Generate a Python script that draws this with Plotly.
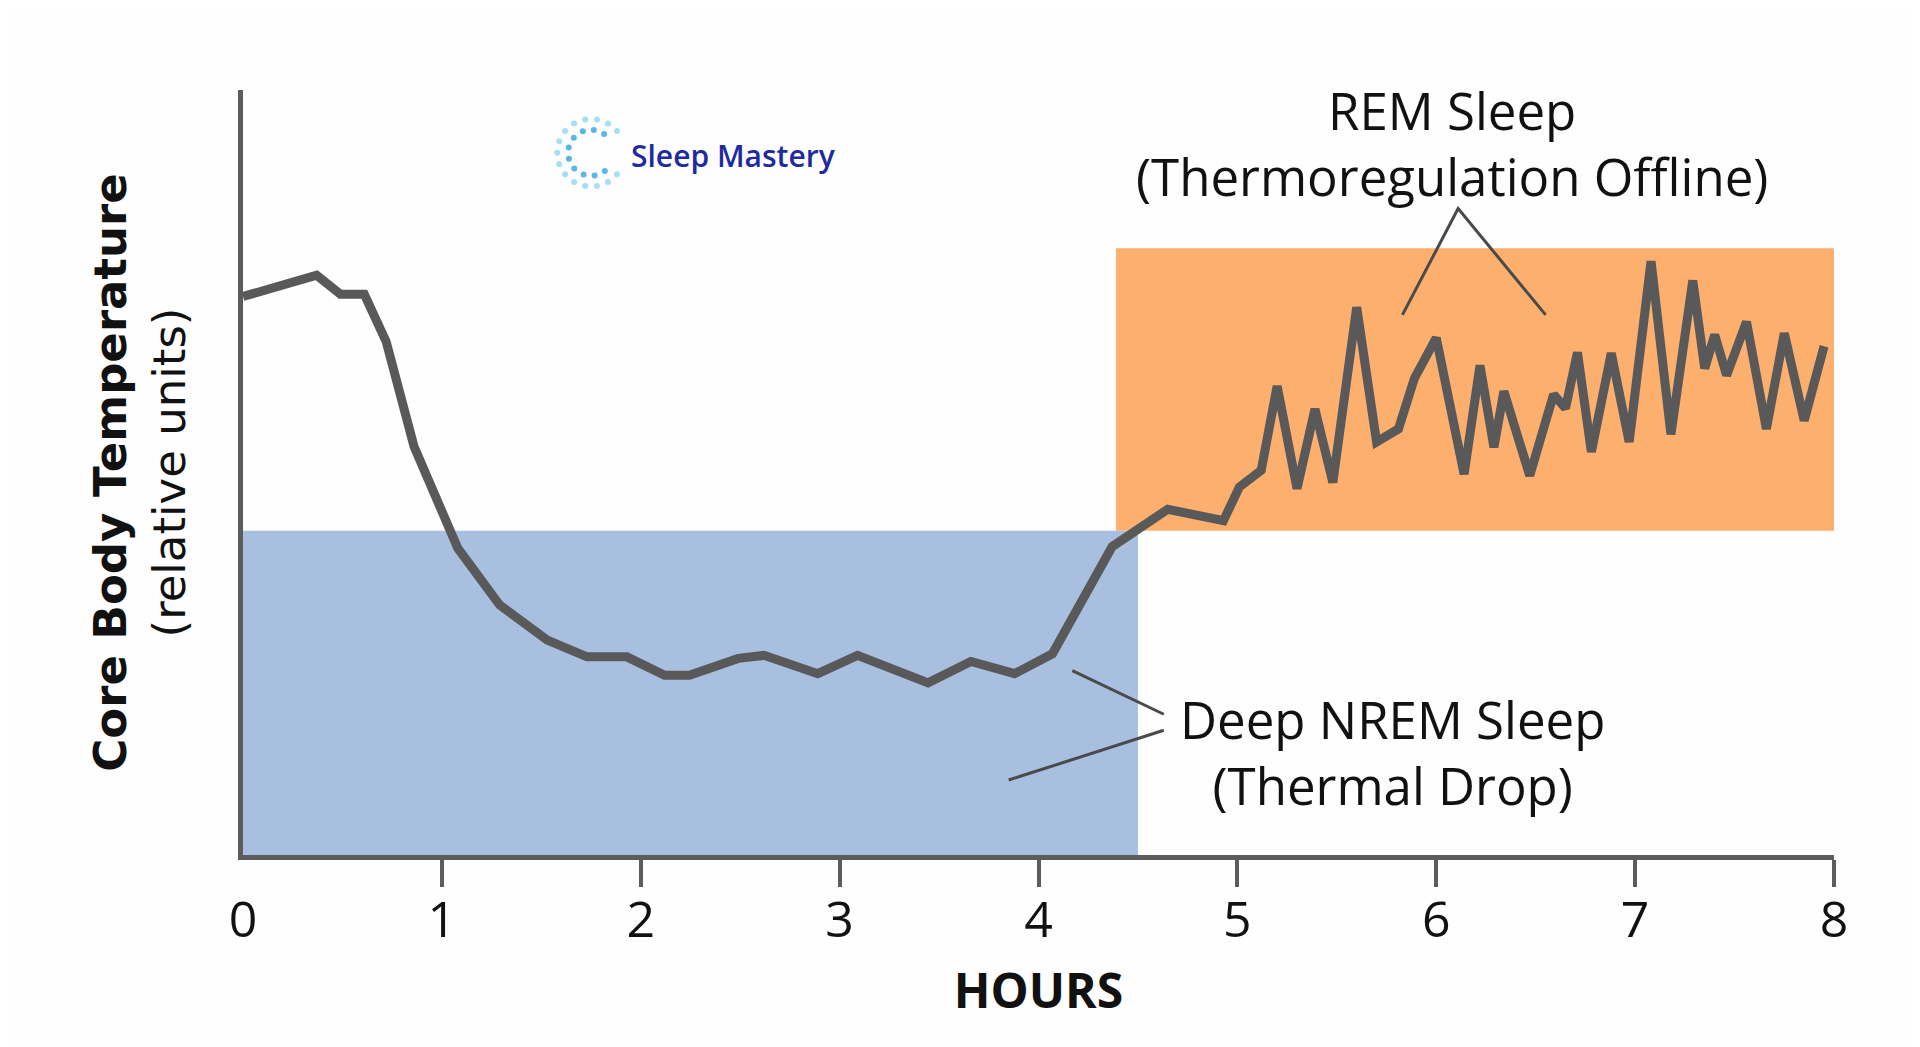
import numpy as np
import plotly.graph_objects as go

# core body temperature trace (relative units, 0-100 scale) over hours of sleep
hours = [0, 0.37, 0.49, 0.61, 0.72, 0.86, 1.08, 1.29, 1.53, 1.73,
         1.93, 2.12, 2.245, 2.49, 2.62, 2.89, 3.09, 3.445, 3.66, 3.88,
         4.07, 4.37, 4.65, 4.93, 5.01, 5.12, 5.20, 5.30, 5.39, 5.48,
         5.60, 5.70, 5.81, 5.89, 6.00, 6.14, 6.22, 6.29, 6.34, 6.47,
         6.59, 6.65, 6.71, 6.78, 6.88, 6.97, 7.08, 7.18, 7.29, 7.35,
         7.40, 7.46, 7.56, 7.66, 7.75, 7.85, 7.95]
temp = [73.0, 75.8, 73.3, 73.3, 67.1, 53.4, 40.1, 32.7, 28.1, 25.9,
        25.9, 23.5, 23.5, 25.7, 26.1, 23.7, 26.1, 22.5, 25.3, 23.7,
        26.3, 40.3, 45.2, 43.7, 48.1, 50.3, 61.3, 47.9, 58.3, 48.7,
        71.6, 54.0, 55.7, 62.3, 67.6, 49.8, 64.0, 53.3, 60.6, 49.6,
        60.2, 58.4, 65.7, 52.7, 65.6, 54.0, 77.6, 55.0, 75.1, 63.6,
        68.0, 62.7, 69.7, 55.7, 68.2, 56.8, 66.5]

# sleep phase bands
band_names = ["Deep NREM", "REM"]
band_x0 = [0, 4.39]
band_x1 = [4.50, 8.0]
band_y0 = [0, 42.4]
band_y1 = [42.4, 79.3]
band_colors = ["#a8bfe0", "#fdb06e"]

x_ticks = [0, 1, 2, 3, 4, 5, 6, 7, 8]

# callouts: label text/position plus the pointer lines
rem_label = "REM Sleep<br>(Thermoregulation Offline)"
rem_label_pos = (6.08, 93.1)
rem_pointer_x = [5.83, 6.11, 6.55]
rem_pointer_y = [70.6, 84.5, 70.6]

nrem_label = "Deep NREM Sleep<br>(Thermal Drop)"
nrem_label_pos = (5.78, 13.5)
nrem_pointers = [([4.17, 4.63], [24.1, 18.4]), ([4.63, 3.85], [16.3, 9.8])]

AXIS_GREY = "#5c5c5c"
LINE_GREY = "#595959"

fig = go.Figure()

for name, x0, x1, y0, y1, c in zip(band_names, band_x0, band_x1, band_y0, band_y1, band_colors):
    fig.add_shape(type="rect", x0=x0, x1=x1, y0=y0, y1=y1, xref="x", yref="y",
                  fillcolor=c, line_width=0, layer="below")

fig.add_trace(go.Scatter(x=hours, y=temp, mode="lines",
                         line=dict(color=LINE_GREY, width=9),
                         hoverinfo="skip", showlegend=False))

# pointer lines
fig.add_trace(go.Scatter(x=rem_pointer_x, y=rem_pointer_y, mode="lines",
                         line=dict(color="#4a4a4a", width=3), showlegend=False, hoverinfo="skip"))
for px, py in nrem_pointers:
    fig.add_trace(go.Scatter(x=px, y=py, mode="lines",
                             line=dict(color="#4a4a4a", width=3), showlegend=False, hoverinfo="skip"))

# small logo ring of dots
ring_c = (1.75, 91.8)
outer = np.deg2rad(np.arange(40, 330, 20))
inner = np.deg2rad(np.arange(55, 320, 28))
ring_x = list(ring_c[0] + 0.17 * np.cos(outer)) + list(ring_c[0] + 0.115 * np.cos(inner))
ring_y = list(ring_c[1] + 4.4 * np.sin(outer)) + list(ring_c[1] + 3.0 * np.sin(inner))
ring_col = ["#a6def5"] * len(outer) + ["#5ab6e6"] * len(inner)
fig.add_trace(go.Scatter(x=ring_x, y=ring_y, mode="markers",
                         marker=dict(size=6, color=ring_col), showlegend=False, hoverinfo="skip"))

fig.add_annotation(x=1.94, y=ring_c[1] - 0.3, text="Sleep Mastery", showarrow=False,
                   xanchor="left", yanchor="middle",
                   font=dict(family="Open Sans", size=30, color="#1f2aa0", weight=600))

fig.add_annotation(x=rem_label_pos[0], y=rem_label_pos[1], text=rem_label, showarrow=False,
                   font=dict(family="Open Sans", size=51, color="#111111"))
fig.add_annotation(x=nrem_label_pos[0], y=nrem_label_pos[1], text=nrem_label, showarrow=False,
                   font=dict(family="Open Sans", size=51, color="#111111"))

fig.update_layout(
    width=1920, height=1047,
    margin=dict(l=235, r=94, t=82, b=200),
    paper_bgcolor="#fefefe", plot_bgcolor="rgba(0,0,0,0)",
    xaxis=dict(range=[0, 8], showgrid=False, zeroline=False,
               showline=True, linecolor=AXIS_GREY, linewidth=5,
               tickvals=x_ticks, ticks="", ticklabelstandoff=17,
               tickfont=dict(family="Open Sans", size=50, color="#111111"),
               minor=dict(tickvals=x_ticks[1:], ticks="outside", ticklen=27,
                          tickwidth=4, tickcolor=AXIS_GREY, showgrid=False),
               title=dict(text="<b>HOURS</b>", standoff=25,
                          font=dict(family="Open Sans", size=48, color="#111111"))),
    yaxis=dict(range=[0, 100], showgrid=False, zeroline=False,
               showline=True, linecolor=AXIS_GREY, linewidth=5,
               showticklabels=False, ticks="",
               title=dict(text="<b>Core Body Temperature</b><br>(relative units)", standoff=40,
                          font=dict(family="DejaVu Sans", size=45, color="#111111"))),
)

fig.write_html("out.html")
